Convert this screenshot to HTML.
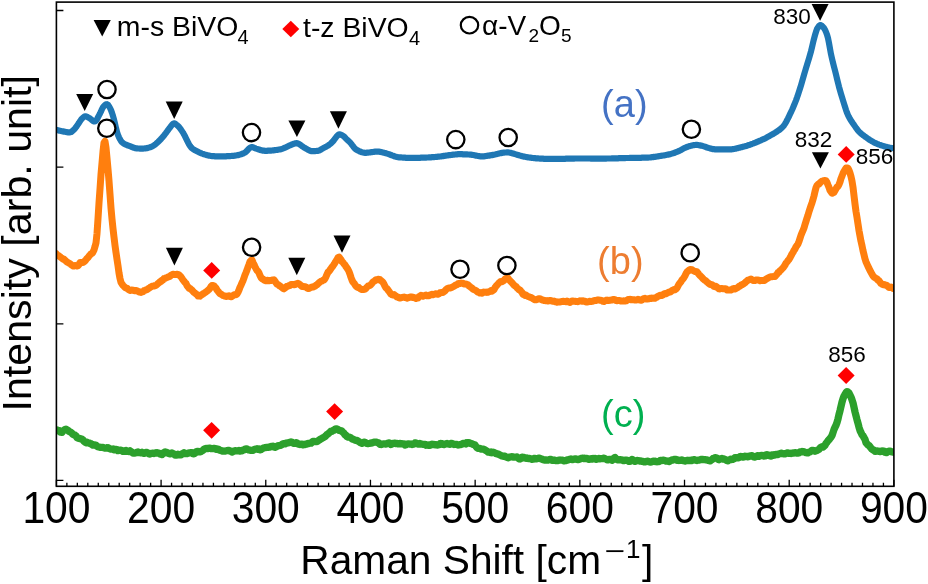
<!DOCTYPE html>
<html><head><meta charset="utf-8"><title>Raman spectra</title>
<style>
html,body{margin:0;padding:0;background:#fff;}
body{width:928px;height:584px;overflow:hidden;}
svg{display:block;}
svg text{font-family:"Liberation Sans",Arial,sans-serif;}
</style></head>
<body>
<svg width="928" height="584" viewBox="0 0 928 584">
<rect width="928" height="584" fill="#fff"/>
<defs><clipPath id="pa"><rect x="56.4" y="2.1" width="837.5" height="484.2"/></clipPath></defs>
<g clip-path="url(#pa)" fill="none" stroke-linejoin="round" stroke-linecap="round">
<path d="M54.0,129.8 L55.0,129.8 L56.0,129.8 L57.0,130.1 L58.0,130.3 L59.0,130.6 L60.0,130.8 L61.0,131.0 L62.0,131.2 L63.0,131.4 L64.0,131.6 L65.0,131.8 L66.0,132.0 L67.0,132.2 L68.0,132.3 L69.0,132.4 L70.0,132.4 L71.0,132.1 L72.0,131.4 L73.0,130.5 L74.0,129.6 L75.0,128.5 L76.0,127.2 L77.0,125.7 L78.0,124.3 L79.0,122.8 L80.0,121.2 L81.0,119.8 L82.0,118.6 L83.0,117.6 L84.0,116.8 L85.0,116.3 L86.0,116.4 L87.0,116.7 L88.0,117.3 L89.0,117.9 L90.0,118.5 L91.0,119.2 L92.0,120.1 L93.0,121.0 L94.0,121.5 L95.0,121.5 L96.0,120.6 L97.0,119.2 L98.0,117.3 L99.0,115.4 L100.0,113.5 L101.0,111.4 L102.0,109.1 L103.0,107.2 L104.0,106.0 L105.0,105.1 L106.0,104.4 L107.0,104.2 L108.0,104.9 L109.0,106.3 L110.0,108.0 L111.0,110.1 L112.0,112.9 L113.0,116.0 L114.0,119.6 L115.0,123.8 L116.0,128.1 L117.0,132.0 L118.0,135.0 L119.0,137.3 L120.0,139.3 L121.0,141.0 L122.0,142.2 L123.0,143.0 L124.0,143.7 L125.0,144.2 L126.0,144.7 L127.0,145.1 L128.0,145.5 L129.0,145.8 L130.0,146.2 L131.0,146.6 L132.0,147.0 L133.0,147.5 L134.0,147.8 L135.0,148.1 L136.0,148.3 L137.0,148.4 L138.0,148.5 L139.0,148.5 L140.0,148.6 L141.0,148.6 L142.0,148.6 L143.0,148.6 L144.0,148.5 L145.0,148.4 L146.0,148.3 L147.0,148.1 L148.0,147.9 L149.0,147.6 L150.0,147.3 L151.0,146.9 L152.0,146.4 L153.0,145.9 L154.0,145.3 L155.0,144.6 L156.0,143.8 L157.0,142.9 L158.0,142.0 L159.0,141.0 L160.0,140.0 L161.0,139.0 L162.0,137.8 L163.0,136.7 L164.0,135.5 L165.0,134.2 L166.0,132.9 L167.0,131.5 L168.0,130.1 L169.0,128.7 L170.0,127.5 L171.0,126.2 L172.0,124.9 L173.0,123.8 L174.0,123.4 L175.0,123.6 L176.0,124.3 L177.0,125.1 L178.0,126.0 L179.0,127.0 L180.0,128.2 L181.0,129.6 L182.0,131.1 L183.0,132.6 L184.0,134.4 L185.0,136.3 L186.0,138.3 L187.0,140.4 L188.0,142.4 L189.0,144.3 L190.0,145.9 L191.0,147.3 L192.0,148.3 L193.0,149.0 L194.0,149.7 L195.0,150.3 L196.0,150.8 L197.0,151.3 L198.0,151.8 L199.0,152.3 L200.0,152.7 L201.0,153.2 L202.0,153.6 L203.0,153.9 L204.0,154.3 L205.0,154.6 L206.0,154.9 L207.0,155.1 L208.0,155.4 L209.0,155.6 L210.0,155.8 L211.0,156.0 L212.0,156.1 L213.0,156.2 L214.0,156.2 L215.0,156.3 L216.0,156.3 L217.0,156.3 L218.0,156.4 L219.0,156.4 L220.0,156.4 L221.0,156.4 L222.0,156.4 L223.0,156.4 L224.0,156.3 L225.0,156.3 L226.0,156.3 L227.0,156.2 L228.0,156.2 L229.0,156.2 L230.0,156.1 L231.0,156.0 L232.0,155.9 L233.0,155.9 L234.0,155.8 L235.0,155.6 L236.0,155.5 L237.0,155.3 L238.0,155.1 L239.0,154.9 L240.0,154.6 L241.0,154.3 L242.0,153.9 L243.0,153.5 L244.0,153.1 L245.0,152.6 L246.0,151.8 L247.0,150.8 L248.0,149.7 L249.0,148.6 L250.0,147.7 L251.0,147.2 L252.0,147.0 L253.0,147.2 L254.0,147.7 L255.0,148.2 L256.0,148.6 L257.0,148.9 L258.0,149.2 L259.0,149.5 L260.0,149.9 L261.0,150.1 L262.0,150.4 L263.0,150.6 L264.0,150.7 L265.0,150.8 L266.0,150.8 L267.0,150.8 L268.0,150.7 L269.0,150.7 L270.0,150.6 L271.0,150.6 L272.0,150.5 L273.0,150.4 L274.0,150.3 L275.0,150.1 L276.0,150.0 L277.0,149.9 L278.0,149.7 L279.0,149.5 L280.0,149.4 L281.0,149.2 L282.0,148.9 L283.0,148.6 L284.0,148.1 L285.0,147.7 L286.0,147.2 L287.0,146.7 L288.0,146.2 L289.0,145.7 L290.0,145.3 L291.0,144.9 L292.0,144.5 L293.0,144.0 L294.0,143.7 L295.0,143.4 L296.0,143.2 L297.0,143.2 L298.0,143.5 L299.0,144.0 L300.0,144.6 L301.0,145.3 L302.0,146.1 L303.0,146.8 L304.0,147.5 L305.0,148.0 L306.0,148.6 L307.0,149.2 L308.0,149.8 L309.0,150.3 L310.0,150.8 L311.0,151.1 L312.0,151.2 L313.0,151.2 L314.0,151.1 L315.0,151.1 L316.0,151.0 L317.0,150.9 L318.0,150.8 L319.0,150.5 L320.0,150.1 L321.0,149.5 L322.0,148.9 L323.0,148.3 L324.0,147.8 L325.0,147.3 L326.0,146.8 L327.0,146.2 L328.0,145.6 L329.0,144.9 L330.0,144.1 L331.0,143.3 L332.0,142.3 L333.0,141.3 L334.0,140.0 L335.0,138.6 L336.0,137.3 L337.0,136.1 L338.0,135.0 L339.0,134.3 L340.0,134.4 L341.0,134.7 L342.0,135.2 L343.0,135.8 L344.0,136.5 L345.0,137.5 L346.0,138.6 L347.0,139.6 L348.0,140.5 L349.0,141.4 L350.0,142.4 L351.0,143.5 L352.0,144.9 L353.0,146.2 L354.0,147.5 L355.0,148.6 L356.0,149.5 L357.0,150.0 L358.0,150.6 L359.0,151.1 L360.0,151.5 L361.0,151.9 L362.0,152.3 L363.0,152.5 L364.0,152.7 L365.0,152.8 L366.0,152.8 L367.0,152.7 L368.0,152.6 L369.0,152.5 L370.0,152.4 L371.0,152.2 L372.0,152.1 L373.0,152.0 L374.0,151.8 L375.0,151.7 L376.0,151.6 L377.0,151.6 L378.0,151.6 L379.0,151.7 L380.0,151.8 L381.0,152.0 L382.0,152.3 L383.0,152.5 L384.0,152.8 L385.0,153.0 L386.0,153.3 L387.0,153.6 L388.0,153.9 L389.0,154.2 L390.0,154.6 L391.0,155.0 L392.0,155.4 L393.0,155.7 L394.0,156.1 L395.0,156.5 L396.0,156.7 L397.0,157.0 L398.0,157.2 L399.0,157.3 L400.0,157.4 L401.0,157.4 L402.0,157.5 L403.0,157.6 L404.0,157.7 L405.0,157.7 L406.0,157.8 L407.0,157.8 L408.0,157.9 L409.0,157.9 L410.0,157.9 L411.0,157.9 L412.0,157.9 L413.0,157.9 L414.0,157.9 L415.0,157.9 L416.0,157.9 L417.0,157.8 L418.0,157.8 L419.0,157.8 L420.0,157.8 L421.0,157.7 L422.0,157.7 L423.0,157.7 L424.0,157.7 L425.0,157.6 L426.0,157.6 L427.0,157.5 L428.0,157.5 L429.0,157.4 L430.0,157.4 L431.0,157.3 L432.0,157.2 L433.0,157.2 L434.0,157.1 L435.0,157.0 L436.0,156.9 L437.0,156.8 L438.0,156.7 L439.0,156.6 L440.0,156.5 L441.0,156.4 L442.0,156.2 L443.0,156.1 L444.0,155.9 L445.0,155.8 L446.0,155.6 L447.0,155.5 L448.0,155.3 L449.0,155.2 L450.0,155.1 L451.0,155.0 L452.0,154.8 L453.0,154.7 L454.0,154.6 L455.0,154.5 L456.0,154.4 L457.0,154.3 L458.0,154.2 L459.0,154.2 L460.0,154.2 L461.0,154.2 L462.0,154.2 L463.0,154.3 L464.0,154.3 L465.0,154.3 L466.0,154.4 L467.0,154.4 L468.0,154.5 L469.0,154.5 L470.0,154.6 L471.0,154.7 L472.0,154.8 L473.0,155.0 L474.0,155.1 L475.0,155.4 L476.0,155.6 L477.0,155.8 L478.0,156.0 L479.0,156.1 L480.0,156.3 L481.0,156.4 L482.0,156.4 L483.0,156.4 L484.0,156.3 L485.0,156.2 L486.0,156.0 L487.0,155.8 L488.0,155.7 L489.0,155.6 L490.0,155.4 L491.0,155.2 L492.0,155.1 L493.0,154.9 L494.0,154.7 L495.0,154.5 L496.0,154.3 L497.0,154.0 L498.0,153.8 L499.0,153.5 L500.0,153.3 L501.0,153.1 L502.0,152.9 L503.0,152.7 L504.0,152.6 L505.0,152.5 L506.0,152.5 L507.0,152.4 L508.0,152.4 L509.0,152.5 L510.0,152.7 L511.0,152.9 L512.0,153.2 L513.0,153.5 L514.0,153.8 L515.0,154.1 L516.0,154.4 L517.0,154.7 L518.0,155.0 L519.0,155.3 L520.0,155.6 L521.0,155.9 L522.0,156.1 L523.0,156.4 L524.0,156.6 L525.0,156.8 L526.0,157.0 L527.0,157.2 L528.0,157.3 L529.0,157.5 L530.0,157.6 L531.0,157.7 L532.0,157.9 L533.0,158.0 L534.0,158.1 L535.0,158.2 L536.0,158.3 L537.0,158.4 L538.0,158.4 L539.0,158.5 L540.0,158.6 L541.0,158.7 L542.0,158.7 L543.0,158.7 L544.0,158.8 L545.0,158.8 L546.0,158.8 L547.0,158.8 L548.0,158.8 L549.0,158.8 L550.0,158.8 L551.0,158.8 L552.0,158.8 L553.0,158.8 L554.0,158.8 L555.0,158.8 L556.0,158.8 L557.0,158.8 L558.0,158.8 L559.0,158.8 L560.0,158.8 L561.0,158.8 L562.0,158.8 L563.0,158.8 L564.0,158.8 L565.0,158.8 L566.0,158.7 L567.0,158.7 L568.0,158.7 L569.0,158.7 L570.0,158.7 L571.0,158.6 L572.0,158.6 L573.0,158.6 L574.0,158.6 L575.0,158.5 L576.0,158.5 L577.0,158.5 L578.0,158.5 L579.0,158.5 L580.0,158.5 L581.0,158.5 L582.0,158.5 L583.0,158.5 L584.0,158.5 L585.0,158.5 L586.0,158.5 L587.0,158.5 L588.0,158.5 L589.0,158.5 L590.0,158.5 L591.0,158.6 L592.0,158.6 L593.0,158.6 L594.0,158.6 L595.0,158.6 L596.0,158.6 L597.0,158.6 L598.0,158.6 L599.0,158.6 L600.0,158.6 L601.0,158.6 L602.0,158.6 L603.0,158.6 L604.0,158.6 L605.0,158.6 L606.0,158.6 L607.0,158.5 L608.0,158.5 L609.0,158.5 L610.0,158.5 L611.0,158.5 L612.0,158.4 L613.0,158.4 L614.0,158.4 L615.0,158.4 L616.0,158.3 L617.0,158.3 L618.0,158.3 L619.0,158.2 L620.0,158.2 L621.0,158.2 L622.0,158.2 L623.0,158.1 L624.0,158.1 L625.0,158.1 L626.0,158.0 L627.0,158.0 L628.0,158.0 L629.0,158.0 L630.0,157.9 L631.0,157.9 L632.0,157.9 L633.0,157.9 L634.0,157.9 L635.0,157.8 L636.0,157.8 L637.0,157.8 L638.0,157.8 L639.0,157.8 L640.0,157.8 L641.0,157.8 L642.0,157.7 L643.0,157.7 L644.0,157.7 L645.0,157.7 L646.0,157.7 L647.0,157.6 L648.0,157.6 L649.0,157.5 L650.0,157.5 L651.0,157.3 L652.0,157.2 L653.0,157.1 L654.0,156.9 L655.0,156.8 L656.0,156.7 L657.0,156.5 L658.0,156.3 L659.0,156.2 L660.0,156.0 L661.0,155.8 L662.0,155.7 L663.0,155.5 L664.0,155.4 L665.0,155.2 L666.0,155.0 L667.0,154.8 L668.0,154.6 L669.0,154.4 L670.0,154.2 L671.0,153.9 L672.0,153.6 L673.0,153.3 L674.0,153.0 L675.0,152.6 L676.0,152.2 L677.0,151.8 L678.0,151.4 L679.0,151.0 L680.0,150.5 L681.0,150.0 L682.0,149.4 L683.0,148.8 L684.0,148.3 L685.0,147.8 L686.0,147.4 L687.0,147.0 L688.0,146.6 L689.0,146.3 L690.0,146.0 L691.0,145.8 L692.0,145.5 L693.0,145.3 L694.0,145.1 L695.0,145.0 L696.0,144.9 L697.0,144.9 L698.0,145.0 L699.0,145.2 L700.0,145.4 L701.0,145.6 L702.0,145.8 L703.0,146.1 L704.0,146.4 L705.0,146.7 L706.0,147.1 L707.0,147.5 L708.0,147.8 L709.0,148.1 L710.0,148.4 L711.0,148.6 L712.0,148.9 L713.0,149.1 L714.0,149.2 L715.0,149.3 L716.0,149.3 L717.0,149.4 L718.0,149.4 L719.0,149.4 L720.0,149.4 L721.0,149.4 L722.0,149.4 L723.0,149.4 L724.0,149.4 L725.0,149.4 L726.0,149.4 L727.0,149.4 L728.0,149.4 L729.0,149.4 L730.0,149.4 L731.0,149.3 L732.0,149.3 L733.0,149.1 L734.0,149.0 L735.0,148.8 L736.0,148.6 L737.0,148.3 L738.0,148.1 L739.0,147.8 L740.0,147.6 L741.0,147.3 L742.0,147.1 L743.0,146.8 L744.0,146.5 L745.0,146.3 L746.0,146.0 L747.0,145.7 L748.0,145.3 L749.0,145.0 L750.0,144.7 L751.0,144.3 L752.0,143.9 L753.0,143.6 L754.0,143.2 L755.0,142.8 L756.0,142.4 L757.0,142.0 L758.0,141.5 L759.0,141.1 L760.0,140.7 L761.0,140.3 L762.0,139.8 L763.0,139.3 L764.0,138.9 L765.0,138.4 L766.0,137.9 L767.0,137.3 L768.0,136.8 L769.0,136.3 L770.0,135.7 L771.0,135.1 L772.0,134.6 L773.0,134.0 L774.0,133.4 L775.0,132.8 L776.0,132.1 L777.0,131.5 L778.0,130.8 L779.0,130.1 L780.0,129.4 L781.0,128.5 L782.0,127.6 L783.0,126.6 L784.0,125.4 L785.0,123.9 L786.0,122.2 L787.0,120.3 L788.0,118.4 L789.0,116.3 L790.0,114.2 L791.0,112.1 L792.0,110.0 L793.0,107.7 L794.0,105.3 L795.0,102.8 L796.0,100.3 L797.0,97.6 L798.0,94.7 L799.0,91.6 L800.0,88.5 L801.0,85.3 L802.0,81.9 L803.0,78.4 L804.0,74.9 L805.0,71.5 L806.0,68.2 L807.0,64.9 L808.0,61.7 L809.0,58.3 L810.0,54.9 L811.0,51.3 L812.0,47.2 L813.0,42.9 L814.0,38.8 L815.0,35.2 L816.0,31.8 L817.0,28.9 L818.0,27.3 L819.0,26.0 L820.0,25.2 L821.0,25.2 L822.0,25.9 L823.0,26.9 L824.0,28.1 L825.0,29.8 L826.0,32.0 L827.0,34.6 L828.0,38.1 L829.0,43.1 L830.0,48.8 L831.0,54.2 L832.0,58.7 L833.0,62.8 L834.0,66.7 L835.0,70.5 L836.0,74.5 L837.0,78.7 L838.0,82.8 L839.0,86.8 L840.0,90.4 L841.0,93.9 L842.0,97.2 L843.0,100.4 L844.0,103.6 L845.0,106.7 L846.0,109.9 L847.0,112.8 L848.0,115.1 L849.0,117.1 L850.0,118.9 L851.0,120.5 L852.0,122.0 L853.0,123.5 L854.0,124.9 L855.0,126.4 L856.0,127.9 L857.0,129.2 L858.0,130.5 L859.0,131.6 L860.0,132.6 L861.0,133.5 L862.0,134.3 L863.0,135.1 L864.0,135.8 L865.0,136.6 L866.0,137.3 L867.0,138.0 L868.0,138.7 L869.0,139.4 L870.0,140.1 L871.0,140.7 L872.0,141.3 L873.0,141.8 L874.0,142.4 L875.0,142.9 L876.0,143.3 L877.0,143.8 L878.0,144.2 L879.0,144.6 L880.0,144.9 L881.0,145.3 L882.0,145.6 L883.0,145.9 L884.0,146.2 L885.0,146.5 L886.0,146.7 L887.0,147.0 L888.0,147.2 L889.0,147.5 L890.0,147.7 L891.0,147.9 L892.0,148.0 L893.0,148.1 L894.0,148.1 L895.0,148.1 L896.0,148.1" stroke="#1f77b4" stroke-width="6.2"/>
<path d="M54.0,252.3 L55.0,253.0 L56.0,253.4 L57.0,254.9 L58.0,255.5 L59.0,256.0 L60.0,256.8 L61.0,257.6 L62.0,258.2 L63.0,259.1 L64.0,259.3 L65.0,260.3 L66.0,261.1 L67.0,262.1 L68.0,262.5 L69.0,263.2 L70.0,263.5 L71.0,264.6 L72.0,265.2 L73.0,265.9 L74.0,266.0 L75.0,265.6 L76.0,265.7 L77.0,266.1 L78.0,265.7 L79.0,264.5 L80.0,262.6 L81.0,262.6 L82.0,262.6 L83.0,262.6 L84.0,261.8 L85.0,260.9 L86.0,259.7 L87.0,258.4 L88.0,257.6 L89.0,256.1 L90.0,255.0 L91.0,253.8 L92.0,253.5 L93.0,252.1 L94.0,250.0 L95.0,246.6 L96.0,242.8 L97.0,233.6 L98.0,218.8 L99.0,203.0 L100.0,188.9 L101.0,174.6 L102.0,163.1 L103.0,151.5 L104.0,142.7 L105.0,141.3 L106.0,147.5 L107.0,158.0 L108.0,169.1 L109.0,180.9 L110.0,194.3 L111.0,208.1 L112.0,219.0 L113.0,228.7 L114.0,237.1 L115.0,245.3 L116.0,252.4 L117.0,259.3 L118.0,265.7 L119.0,273.0 L120.0,278.5 L121.0,282.4 L122.0,284.0 L123.0,285.4 L124.0,286.4 L125.0,287.5 L126.0,288.1 L127.0,288.2 L128.0,289.1 L129.0,289.8 L130.0,290.5 L131.0,290.1 L132.0,289.9 L133.0,290.3 L134.0,290.5 L135.0,290.7 L136.0,290.6 L137.0,290.7 L138.0,291.3 L139.0,292.0 L140.0,292.1 L141.0,292.4 L142.0,291.7 L143.0,291.7 L144.0,290.7 L145.0,290.4 L146.0,289.9 L147.0,289.6 L148.0,288.9 L149.0,288.2 L150.0,287.6 L151.0,286.8 L152.0,286.3 L153.0,285.9 L154.0,286.0 L155.0,285.5 L156.0,285.4 L157.0,284.5 L158.0,283.5 L159.0,282.7 L160.0,281.7 L161.0,281.5 L162.0,280.2 L163.0,280.0 L164.0,278.6 L165.0,278.6 L166.0,277.8 L167.0,277.5 L168.0,277.1 L169.0,276.6 L170.0,276.3 L171.0,275.3 L172.0,274.7 L173.0,274.3 L174.0,274.5 L175.0,274.6 L176.0,274.4 L177.0,274.3 L178.0,274.4 L179.0,274.9 L180.0,275.8 L181.0,276.9 L182.0,278.4 L183.0,280.0 L184.0,281.1 L185.0,282.5 L186.0,283.4 L187.0,285.7 L188.0,286.8 L189.0,288.2 L190.0,288.4 L191.0,289.3 L192.0,290.2 L193.0,291.3 L194.0,292.5 L195.0,292.9 L196.0,294.1 L197.0,294.5 L198.0,296.0 L199.0,295.7 L200.0,296.1 L201.0,295.0 L202.0,294.8 L203.0,293.8 L204.0,293.4 L205.0,292.5 L206.0,291.9 L207.0,291.2 L208.0,290.3 L209.0,289.5 L210.0,288.3 L211.0,286.6 L212.0,285.4 L213.0,285.5 L214.0,285.8 L215.0,287.0 L216.0,288.1 L217.0,290.0 L218.0,291.2 L219.0,292.5 L220.0,293.7 L221.0,294.1 L222.0,294.8 L223.0,295.4 L224.0,295.8 L225.0,296.2 L226.0,296.5 L227.0,296.3 L228.0,296.1 L229.0,295.7 L230.0,296.6 L231.0,296.7 L232.0,296.5 L233.0,295.6 L234.0,294.9 L235.0,294.6 L236.0,294.7 L237.0,293.9 L238.0,292.2 L239.0,290.0 L240.0,287.2 L241.0,285.2 L242.0,282.8 L243.0,280.7 L244.0,277.8 L245.0,274.9 L246.0,272.6 L247.0,270.0 L248.0,267.0 L249.0,264.5 L250.0,261.6 L251.0,260.5 L252.0,260.0 L253.0,262.6 L254.0,264.4 L255.0,266.8 L256.0,268.7 L257.0,270.4 L258.0,271.3 L259.0,272.9 L260.0,275.5 L261.0,277.6 L262.0,278.7 L263.0,279.1 L264.0,279.9 L265.0,280.5 L266.0,280.8 L267.0,280.3 L268.0,280.5 L269.0,280.7 L270.0,280.5 L271.0,280.5 L272.0,279.9 L273.0,280.2 L274.0,279.9 L275.0,281.3 L276.0,282.8 L277.0,284.2 L278.0,284.5 L279.0,285.5 L280.0,286.0 L281.0,286.7 L282.0,287.5 L283.0,288.4 L284.0,288.9 L285.0,287.9 L286.0,287.3 L287.0,286.2 L288.0,286.2 L289.0,285.5 L290.0,285.4 L291.0,284.6 L292.0,284.6 L293.0,284.6 L294.0,284.7 L295.0,284.5 L296.0,284.0 L297.0,283.7 L298.0,283.3 L299.0,283.8 L300.0,284.7 L301.0,285.6 L302.0,286.4 L303.0,286.4 L304.0,286.7 L305.0,286.7 L306.0,287.0 L307.0,287.9 L308.0,288.5 L309.0,288.6 L310.0,287.8 L311.0,287.4 L312.0,287.0 L313.0,287.1 L314.0,286.4 L315.0,286.2 L316.0,285.2 L317.0,284.8 L318.0,283.8 L319.0,282.8 L320.0,281.9 L321.0,281.3 L322.0,280.9 L323.0,280.3 L324.0,279.9 L325.0,278.7 L326.0,276.7 L327.0,274.4 L328.0,272.2 L329.0,271.3 L330.0,270.0 L331.0,268.5 L332.0,267.1 L333.0,265.9 L334.0,264.4 L335.0,262.7 L336.0,261.1 L337.0,259.4 L338.0,257.6 L339.0,257.1 L340.0,258.3 L341.0,259.6 L342.0,261.6 L343.0,262.4 L344.0,264.0 L345.0,264.9 L346.0,266.7 L347.0,268.0 L348.0,269.5 L349.0,271.5 L350.0,274.2 L351.0,277.4 L352.0,280.1 L353.0,282.1 L354.0,283.1 L355.0,284.7 L356.0,286.1 L357.0,287.1 L358.0,287.5 L359.0,287.6 L360.0,288.6 L361.0,289.1 L362.0,289.6 L363.0,289.4 L364.0,289.5 L365.0,289.2 L366.0,288.3 L367.0,287.1 L368.0,286.1 L369.0,285.7 L370.0,285.6 L371.0,284.4 L372.0,283.3 L373.0,281.9 L374.0,281.3 L375.0,280.6 L376.0,279.7 L377.0,279.8 L378.0,279.2 L379.0,279.4 L380.0,279.7 L381.0,280.7 L382.0,281.4 L383.0,282.3 L384.0,284.2 L385.0,286.3 L386.0,288.0 L387.0,288.7 L388.0,290.0 L389.0,291.3 L390.0,292.7 L391.0,294.1 L392.0,294.7 L393.0,295.1 L394.0,294.6 L395.0,295.4 L396.0,296.0 L397.0,297.1 L398.0,297.1 L399.0,297.8 L400.0,298.0 L401.0,297.8 L402.0,297.4 L403.0,297.3 L404.0,297.1 L405.0,297.5 L406.0,297.5 L407.0,298.2 L408.0,297.8 L409.0,297.6 L410.0,297.0 L411.0,297.2 L412.0,297.0 L413.0,297.5 L414.0,297.6 L415.0,298.0 L416.0,298.4 L417.0,298.0 L418.0,298.0 L419.0,296.7 L420.0,296.0 L421.0,295.3 L422.0,295.6 L423.0,296.2 L424.0,295.6 L425.0,295.4 L426.0,295.1 L427.0,295.8 L428.0,295.7 L429.0,295.7 L430.0,294.9 L431.0,294.7 L432.0,294.3 L433.0,294.7 L434.0,294.3 L435.0,294.0 L436.0,293.7 L437.0,294.2 L438.0,294.2 L439.0,293.8 L440.0,292.8 L441.0,292.6 L442.0,292.3 L443.0,292.4 L444.0,291.7 L445.0,290.8 L446.0,289.7 L447.0,288.8 L448.0,288.2 L449.0,288.1 L450.0,288.1 L451.0,287.6 L452.0,287.3 L453.0,286.7 L454.0,286.3 L455.0,285.5 L456.0,285.0 L457.0,284.7 L458.0,283.7 L459.0,283.5 L460.0,283.5 L461.0,283.1 L462.0,283.2 L463.0,283.3 L464.0,284.1 L465.0,284.1 L466.0,284.1 L467.0,284.4 L468.0,284.8 L469.0,286.0 L470.0,286.6 L471.0,287.5 L472.0,288.1 L473.0,289.2 L474.0,289.7 L475.0,290.0 L476.0,290.7 L477.0,291.4 L478.0,292.2 L479.0,292.2 L480.0,293.1 L481.0,292.9 L482.0,293.2 L483.0,292.2 L484.0,292.1 L485.0,292.3 L486.0,292.1 L487.0,292.4 L488.0,292.2 L489.0,291.8 L490.0,291.4 L491.0,290.5 L492.0,291.2 L493.0,290.3 L494.0,289.7 L495.0,287.6 L496.0,286.2 L497.0,285.1 L498.0,284.0 L499.0,282.9 L500.0,282.0 L501.0,281.5 L502.0,281.8 L503.0,281.0 L504.0,280.4 L505.0,279.0 L506.0,278.4 L507.0,277.9 L508.0,278.2 L509.0,279.6 L510.0,280.7 L511.0,281.7 L512.0,282.7 L513.0,284.0 L514.0,285.1 L515.0,286.0 L516.0,286.6 L517.0,287.8 L518.0,288.7 L519.0,289.7 L520.0,290.1 L521.0,291.3 L522.0,292.4 L523.0,294.4 L524.0,294.5 L525.0,295.4 L526.0,295.0 L527.0,295.9 L528.0,296.4 L529.0,296.8 L530.0,297.2 L531.0,297.4 L532.0,298.1 L533.0,298.7 L534.0,299.3 L535.0,299.8 L536.0,299.8 L537.0,299.5 L538.0,298.9 L539.0,298.7 L540.0,298.7 L541.0,299.4 L542.0,299.9 L543.0,300.0 L544.0,300.4 L545.0,300.5 L546.0,300.8 L547.0,300.6 L548.0,301.1 L549.0,300.7 L550.0,300.5 L551.0,300.5 L552.0,301.1 L553.0,301.3 L554.0,301.1 L555.0,301.7 L556.0,301.8 L557.0,302.2 L558.0,302.1 L559.0,302.1 L560.0,302.0 L561.0,301.7 L562.0,301.6 L563.0,301.2 L564.0,301.5 L565.0,301.6 L566.0,301.7 L567.0,301.1 L568.0,301.7 L569.0,302.1 L570.0,302.4 L571.0,301.6 L572.0,300.9 L573.0,301.0 L574.0,301.3 L575.0,301.3 L576.0,301.5 L577.0,301.6 L578.0,301.7 L579.0,301.2 L580.0,300.8 L581.0,301.1 L582.0,301.2 L583.0,300.8 L584.0,301.2 L585.0,301.3 L586.0,302.1 L587.0,302.0 L588.0,301.8 L589.0,301.5 L590.0,301.3 L591.0,301.6 L592.0,301.4 L593.0,301.0 L594.0,300.7 L595.0,300.5 L596.0,300.5 L597.0,299.9 L598.0,300.1 L599.0,299.9 L600.0,300.3 L601.0,300.3 L602.0,300.6 L603.0,301.3 L604.0,301.4 L605.0,300.8 L606.0,300.3 L607.0,300.1 L608.0,300.6 L609.0,300.3 L610.0,300.3 L611.0,300.0 L612.0,300.0 L613.0,299.6 L614.0,299.6 L615.0,299.7 L616.0,300.6 L617.0,300.7 L618.0,300.6 L619.0,300.4 L620.0,300.6 L621.0,301.1 L622.0,301.1 L623.0,300.9 L624.0,300.8 L625.0,301.1 L626.0,300.9 L627.0,300.5 L628.0,299.6 L629.0,299.6 L630.0,299.3 L631.0,299.7 L632.0,299.6 L633.0,299.8 L634.0,299.8 L635.0,300.0 L636.0,300.1 L637.0,299.9 L638.0,299.3 L639.0,299.6 L640.0,300.1 L641.0,300.2 L642.0,300.0 L643.0,299.0 L644.0,298.6 L645.0,298.3 L646.0,299.0 L647.0,299.1 L648.0,298.8 L649.0,298.7 L650.0,298.3 L651.0,298.5 L652.0,298.0 L653.0,298.3 L654.0,298.0 L655.0,298.2 L656.0,297.6 L657.0,297.2 L658.0,296.1 L659.0,295.9 L660.0,295.3 L661.0,295.5 L662.0,295.4 L663.0,294.9 L664.0,293.8 L665.0,293.5 L666.0,293.8 L667.0,293.2 L668.0,292.7 L669.0,292.1 L670.0,292.1 L671.0,291.6 L672.0,290.4 L673.0,290.2 L674.0,289.4 L675.0,289.7 L676.0,289.1 L677.0,288.0 L678.0,286.0 L679.0,284.1 L680.0,282.8 L681.0,281.7 L682.0,279.8 L683.0,278.9 L684.0,277.5 L685.0,275.8 L686.0,273.6 L687.0,271.9 L688.0,271.2 L689.0,270.2 L690.0,269.5 L691.0,269.6 L692.0,269.8 L693.0,270.6 L694.0,271.0 L695.0,271.4 L696.0,271.4 L697.0,271.8 L698.0,273.1 L699.0,274.5 L700.0,275.6 L701.0,276.4 L702.0,277.6 L703.0,278.8 L704.0,279.6 L705.0,280.3 L706.0,281.1 L707.0,281.9 L708.0,282.9 L709.0,283.6 L710.0,284.3 L711.0,284.6 L712.0,284.7 L713.0,285.6 L714.0,286.4 L715.0,286.7 L716.0,286.3 L717.0,287.0 L718.0,288.1 L719.0,288.8 L720.0,288.9 L721.0,288.4 L722.0,288.6 L723.0,288.7 L724.0,288.8 L725.0,288.8 L726.0,289.0 L727.0,290.0 L728.0,290.1 L729.0,289.9 L730.0,290.0 L731.0,290.0 L732.0,289.4 L733.0,288.7 L734.0,288.6 L735.0,289.0 L736.0,288.6 L737.0,287.8 L738.0,287.3 L739.0,286.4 L740.0,286.1 L741.0,285.0 L742.0,284.8 L743.0,284.1 L744.0,283.6 L745.0,282.8 L746.0,281.7 L747.0,280.9 L748.0,280.1 L749.0,279.8 L750.0,279.4 L751.0,279.1 L752.0,279.7 L753.0,280.4 L754.0,280.4 L755.0,280.4 L756.0,280.0 L757.0,279.9 L758.0,280.1 L759.0,280.2 L760.0,280.8 L761.0,280.4 L762.0,280.5 L763.0,280.6 L764.0,280.5 L765.0,280.0 L766.0,279.2 L767.0,278.7 L768.0,277.9 L769.0,277.5 L770.0,276.9 L771.0,276.8 L772.0,276.7 L773.0,276.6 L774.0,276.4 L775.0,276.5 L776.0,275.3 L777.0,274.3 L778.0,272.6 L779.0,272.2 L780.0,270.8 L781.0,270.0 L782.0,268.9 L783.0,267.9 L784.0,266.5 L785.0,265.0 L786.0,263.1 L787.0,262.0 L788.0,260.6 L789.0,259.4 L790.0,257.7 L791.0,255.9 L792.0,253.9 L793.0,252.4 L794.0,250.3 L795.0,249.0 L796.0,246.8 L797.0,245.6 L798.0,243.9 L799.0,241.5 L800.0,238.4 L801.0,235.3 L802.0,232.7 L803.0,230.6 L804.0,228.0 L805.0,224.6 L806.0,221.4 L807.0,218.1 L808.0,215.1 L809.0,211.6 L810.0,208.7 L811.0,205.7 L812.0,202.8 L813.0,199.4 L814.0,195.9 L815.0,191.5 L816.0,187.7 L817.0,185.4 L818.0,184.4 L819.0,184.1 L820.0,182.8 L821.0,182.0 L822.0,181.1 L823.0,180.9 L824.0,180.6 L825.0,180.4 L826.0,180.8 L827.0,182.4 L828.0,185.0 L829.0,187.4 L830.0,190.3 L831.0,191.8 L832.0,193.2 L833.0,193.0 L834.0,192.3 L835.0,190.5 L836.0,188.7 L837.0,187.0 L838.0,186.4 L839.0,184.6 L840.0,182.0 L841.0,178.5 L842.0,176.1 L843.0,173.4 L844.0,171.4 L845.0,169.6 L846.0,168.1 L847.0,168.0 L848.0,168.2 L849.0,170.3 L850.0,173.0 L851.0,176.5 L852.0,181.0 L853.0,187.2 L854.0,195.7 L855.0,204.0 L856.0,211.5 L857.0,217.5 L858.0,224.1 L859.0,230.6 L860.0,236.0 L861.0,241.3 L862.0,245.6 L863.0,250.7 L864.0,254.7 L865.0,258.8 L866.0,261.9 L867.0,264.2 L868.0,266.4 L869.0,268.4 L870.0,270.5 L871.0,272.3 L872.0,274.2 L873.0,275.8 L874.0,277.1 L875.0,277.6 L876.0,278.5 L877.0,278.8 L878.0,280.2 L879.0,280.7 L880.0,282.2 L881.0,283.5 L882.0,284.2 L883.0,284.7 L884.0,284.5 L885.0,285.0 L886.0,284.9 L887.0,285.5 L888.0,286.6 L889.0,287.4 L890.0,287.4 L891.0,287.1 L892.0,287.5 L893.0,288.4 L894.0,288.8 L895.0,289.0 L896.0,288.9" stroke="#ff7f0e" stroke-width="7.0"/>
<path d="M54.0,429.5 L55.0,430.2 L56.0,430.0 L57.0,430.0 L58.0,430.3 L59.0,430.3 L60.0,432.1 L61.0,432.2 L62.0,432.4 L63.0,431.0 L64.0,430.2 L65.0,429.5 L66.0,429.2 L67.0,429.8 L68.0,430.4 L69.0,431.4 L70.0,431.8 L71.0,432.4 L72.0,433.3 L73.0,434.3 L74.0,434.9 L75.0,435.1 L76.0,436.0 L77.0,437.6 L78.0,438.2 L79.0,438.4 L80.0,438.6 L81.0,438.8 L82.0,439.2 L83.0,439.9 L84.0,441.2 L85.0,442.1 L86.0,442.7 L87.0,442.2 L88.0,442.9 L89.0,442.8 L90.0,443.5 L91.0,443.6 L92.0,444.5 L93.0,445.2 L94.0,445.0 L95.0,445.0 L96.0,445.3 L97.0,446.2 L98.0,446.7 L99.0,447.0 L100.0,447.3 L101.0,447.4 L102.0,447.4 L103.0,447.4 L104.0,447.8 L105.0,448.2 L106.0,448.0 L107.0,448.1 L108.0,447.6 L109.0,448.4 L110.0,448.7 L111.0,449.2 L112.0,449.2 L113.0,449.0 L114.0,449.9 L115.0,449.4 L116.0,449.5 L117.0,449.6 L118.0,450.7 L119.0,450.5 L120.0,450.2 L121.0,450.1 L122.0,450.7 L123.0,451.4 L124.0,450.9 L125.0,451.3 L126.0,450.5 L127.0,451.4 L128.0,451.3 L129.0,451.6 L130.0,450.8 L131.0,451.6 L132.0,452.2 L133.0,453.1 L134.0,453.1 L135.0,453.1 L136.0,452.8 L137.0,452.3 L138.0,452.0 L139.0,452.7 L140.0,452.6 L141.0,452.8 L142.0,452.3 L143.0,452.9 L144.0,453.4 L145.0,453.1 L146.0,452.5 L147.0,452.4 L148.0,453.1 L149.0,453.9 L150.0,454.0 L151.0,453.5 L152.0,453.4 L153.0,453.2 L154.0,453.5 L155.0,453.0 L156.0,453.1 L157.0,452.7 L158.0,453.1 L159.0,453.1 L160.0,453.9 L161.0,454.2 L162.0,454.6 L163.0,453.2 L164.0,452.6 L165.0,452.0 L166.0,452.9 L167.0,452.4 L168.0,453.1 L169.0,453.5 L170.0,453.9 L171.0,453.3 L172.0,452.9 L173.0,453.4 L174.0,454.1 L175.0,455.0 L176.0,455.0 L177.0,455.0 L178.0,454.3 L179.0,454.8 L180.0,454.7 L181.0,454.9 L182.0,453.9 L183.0,453.5 L184.0,452.8 L185.0,453.5 L186.0,453.7 L187.0,453.7 L188.0,453.1 L189.0,453.0 L190.0,452.8 L191.0,452.6 L192.0,452.6 L193.0,453.6 L194.0,453.8 L195.0,453.3 L196.0,452.0 L197.0,451.4 L198.0,451.5 L199.0,451.8 L200.0,451.9 L201.0,451.5 L202.0,450.8 L203.0,450.4 L204.0,449.3 L205.0,448.8 L206.0,448.5 L207.0,448.6 L208.0,448.5 L209.0,448.2 L210.0,448.2 L211.0,448.6 L212.0,448.6 L213.0,448.6 L214.0,448.4 L215.0,448.6 L216.0,449.3 L217.0,448.9 L218.0,449.7 L219.0,449.5 L220.0,450.3 L221.0,450.3 L222.0,450.9 L223.0,451.2 L224.0,451.0 L225.0,451.2 L226.0,450.8 L227.0,450.7 L228.0,450.4 L229.0,450.3 L230.0,451.1 L231.0,451.2 L232.0,452.1 L233.0,451.5 L234.0,451.2 L235.0,450.6 L236.0,450.9 L237.0,450.8 L238.0,450.8 L239.0,450.5 L240.0,451.1 L241.0,450.7 L242.0,450.9 L243.0,450.1 L244.0,449.9 L245.0,449.2 L246.0,448.8 L247.0,449.1 L248.0,449.6 L249.0,450.0 L250.0,450.2 L251.0,450.4 L252.0,450.4 L253.0,450.3 L254.0,449.7 L255.0,449.1 L256.0,449.2 L257.0,448.7 L258.0,449.3 L259.0,449.0 L260.0,449.9 L261.0,449.5 L262.0,448.9 L263.0,448.3 L264.0,447.8 L265.0,447.7 L266.0,447.4 L267.0,447.4 L268.0,447.4 L269.0,447.1 L270.0,447.0 L271.0,446.4 L272.0,446.5 L273.0,446.1 L274.0,447.0 L275.0,447.3 L276.0,446.9 L277.0,446.3 L278.0,445.7 L279.0,445.7 L280.0,445.5 L281.0,445.1 L282.0,444.5 L283.0,443.8 L284.0,443.6 L285.0,443.9 L286.0,443.2 L287.0,443.0 L288.0,442.9 L289.0,442.7 L290.0,442.2 L291.0,441.9 L292.0,442.2 L293.0,443.1 L294.0,443.3 L295.0,443.4 L296.0,442.7 L297.0,442.8 L298.0,444.0 L299.0,444.3 L300.0,444.6 L301.0,444.1 L302.0,444.2 L303.0,444.8 L304.0,444.4 L305.0,444.6 L306.0,443.8 L307.0,444.0 L308.0,443.3 L309.0,443.6 L310.0,443.1 L311.0,443.2 L312.0,442.1 L313.0,441.5 L314.0,441.4 L315.0,441.6 L316.0,441.7 L317.0,441.4 L318.0,440.9 L319.0,440.1 L320.0,439.5 L321.0,438.9 L322.0,438.3 L323.0,437.7 L324.0,437.2 L325.0,436.6 L326.0,435.6 L327.0,434.5 L328.0,434.0 L329.0,433.0 L330.0,432.1 L331.0,431.1 L332.0,431.4 L333.0,430.5 L334.0,430.2 L335.0,429.3 L336.0,428.8 L337.0,429.1 L338.0,429.4 L339.0,430.3 L340.0,430.7 L341.0,430.6 L342.0,431.3 L343.0,432.4 L344.0,433.3 L345.0,434.9 L346.0,435.2 L347.0,436.7 L348.0,437.1 L349.0,437.2 L350.0,437.4 L351.0,438.0 L352.0,438.9 L353.0,439.2 L354.0,439.6 L355.0,440.2 L356.0,440.4 L357.0,440.3 L358.0,441.1 L359.0,441.7 L360.0,442.5 L361.0,442.9 L362.0,443.3 L363.0,442.9 L364.0,442.1 L365.0,442.3 L366.0,443.0 L367.0,443.5 L368.0,443.7 L369.0,443.3 L370.0,443.3 L371.0,443.0 L372.0,443.0 L373.0,442.5 L374.0,442.2 L375.0,442.1 L376.0,442.2 L377.0,442.4 L378.0,442.8 L379.0,443.1 L380.0,444.3 L381.0,444.5 L382.0,444.4 L383.0,443.8 L384.0,443.8 L385.0,443.9 L386.0,444.1 L387.0,443.8 L388.0,443.1 L389.0,443.0 L390.0,443.1 L391.0,444.4 L392.0,443.9 L393.0,443.5 L394.0,443.4 L395.0,443.1 L396.0,443.5 L397.0,443.4 L398.0,443.8 L399.0,443.8 L400.0,443.4 L401.0,443.8 L402.0,443.7 L403.0,444.0 L404.0,444.0 L405.0,445.1 L406.0,444.8 L407.0,444.3 L408.0,443.8 L409.0,443.8 L410.0,444.2 L411.0,444.0 L412.0,444.5 L413.0,444.2 L414.0,444.1 L415.0,443.0 L416.0,442.9 L417.0,443.4 L418.0,444.1 L419.0,444.2 L420.0,443.4 L421.0,443.9 L422.0,444.2 L423.0,444.3 L424.0,444.4 L425.0,444.5 L426.0,445.2 L427.0,444.8 L428.0,445.3 L429.0,445.2 L430.0,445.3 L431.0,444.5 L432.0,444.2 L433.0,444.5 L434.0,444.5 L435.0,444.8 L436.0,444.6 L437.0,445.1 L438.0,444.9 L439.0,444.7 L440.0,443.6 L441.0,443.5 L442.0,443.7 L443.0,444.4 L444.0,444.5 L445.0,444.1 L446.0,443.9 L447.0,443.4 L448.0,444.0 L449.0,444.2 L450.0,444.3 L451.0,443.5 L452.0,443.4 L453.0,444.0 L454.0,444.5 L455.0,444.3 L456.0,444.3 L457.0,444.6 L458.0,445.1 L459.0,444.8 L460.0,444.7 L461.0,444.4 L462.0,444.2 L463.0,443.4 L464.0,443.5 L465.0,443.2 L466.0,443.9 L467.0,442.7 L468.0,442.8 L469.0,442.6 L470.0,443.3 L471.0,443.4 L472.0,443.7 L473.0,444.4 L474.0,444.6 L475.0,445.0 L476.0,446.5 L477.0,447.7 L478.0,448.3 L479.0,448.4 L480.0,448.4 L481.0,449.0 L482.0,449.1 L483.0,449.1 L484.0,449.3 L485.0,449.9 L486.0,450.7 L487.0,451.1 L488.0,452.0 L489.0,452.1 L490.0,452.6 L491.0,452.0 L492.0,452.7 L493.0,452.2 L494.0,452.6 L495.0,452.9 L496.0,453.5 L497.0,453.9 L498.0,453.9 L499.0,454.5 L500.0,455.0 L501.0,455.5 L502.0,456.0 L503.0,456.2 L504.0,456.4 L505.0,456.2 L506.0,456.9 L507.0,457.3 L508.0,457.8 L509.0,457.4 L510.0,457.0 L511.0,456.8 L512.0,456.7 L513.0,457.0 L514.0,457.1 L515.0,457.2 L516.0,457.1 L517.0,457.0 L518.0,457.9 L519.0,458.8 L520.0,459.0 L521.0,458.5 L522.0,457.1 L523.0,457.3 L524.0,457.4 L525.0,458.0 L526.0,458.3 L527.0,458.0 L528.0,458.5 L529.0,458.4 L530.0,458.6 L531.0,458.9 L532.0,459.3 L533.0,459.2 L534.0,458.5 L535.0,458.4 L536.0,458.8 L537.0,458.8 L538.0,458.3 L539.0,458.1 L540.0,458.4 L541.0,458.8 L542.0,459.0 L543.0,459.7 L544.0,459.9 L545.0,460.1 L546.0,460.0 L547.0,460.1 L548.0,460.2 L549.0,459.6 L550.0,459.5 L551.0,459.4 L552.0,460.3 L553.0,460.2 L554.0,460.4 L555.0,460.1 L556.0,460.7 L557.0,460.6 L558.0,460.5 L559.0,460.2 L560.0,460.0 L561.0,460.2 L562.0,460.1 L563.0,460.3 L564.0,460.9 L565.0,460.7 L566.0,460.6 L567.0,459.8 L568.0,460.1 L569.0,459.6 L570.0,459.3 L571.0,459.0 L572.0,459.5 L573.0,459.6 L574.0,459.3 L575.0,458.8 L576.0,458.9 L577.0,459.4 L578.0,459.6 L579.0,459.4 L580.0,459.0 L581.0,458.5 L582.0,458.4 L583.0,458.1 L584.0,458.5 L585.0,458.6 L586.0,458.3 L587.0,458.6 L588.0,459.1 L589.0,459.4 L590.0,459.2 L591.0,458.7 L592.0,459.1 L593.0,458.5 L594.0,458.9 L595.0,458.5 L596.0,459.4 L597.0,458.9 L598.0,458.9 L599.0,458.5 L600.0,458.8 L601.0,458.7 L602.0,458.7 L603.0,458.4 L604.0,458.1 L605.0,458.7 L606.0,459.1 L607.0,459.8 L608.0,459.8 L609.0,459.4 L610.0,459.4 L611.0,459.6 L612.0,460.3 L613.0,459.7 L614.0,458.1 L615.0,457.5 L616.0,458.6 L617.0,459.6 L618.0,459.9 L619.0,459.8 L620.0,459.7 L621.0,459.9 L622.0,460.0 L623.0,460.5 L624.0,460.6 L625.0,460.2 L626.0,460.3 L627.0,460.1 L628.0,460.7 L629.0,461.4 L630.0,461.4 L631.0,460.3 L632.0,459.4 L633.0,459.8 L634.0,460.9 L635.0,461.4 L636.0,461.0 L637.0,460.5 L638.0,460.6 L639.0,460.6 L640.0,461.2 L641.0,460.8 L642.0,461.4 L643.0,461.4 L644.0,461.8 L645.0,461.9 L646.0,461.4 L647.0,461.4 L648.0,461.2 L649.0,461.7 L650.0,462.0 L651.0,462.0 L652.0,461.7 L653.0,461.1 L654.0,461.1 L655.0,461.6 L656.0,461.5 L657.0,461.8 L658.0,461.5 L659.0,461.5 L660.0,460.6 L661.0,460.4 L662.0,460.5 L663.0,460.2 L664.0,460.4 L665.0,460.6 L666.0,461.2 L667.0,461.0 L668.0,461.2 L669.0,461.5 L670.0,461.1 L671.0,460.3 L672.0,459.9 L673.0,460.1 L674.0,459.4 L675.0,459.6 L676.0,459.5 L677.0,460.3 L678.0,460.0 L679.0,460.5 L680.0,460.3 L681.0,460.1 L682.0,460.0 L683.0,460.6 L684.0,460.7 L685.0,461.0 L686.0,460.6 L687.0,460.5 L688.0,460.6 L689.0,460.3 L690.0,460.7 L691.0,460.1 L692.0,460.5 L693.0,459.8 L694.0,459.7 L695.0,459.9 L696.0,460.3 L697.0,460.6 L698.0,460.1 L699.0,460.2 L700.0,459.8 L701.0,459.5 L702.0,459.4 L703.0,459.5 L704.0,459.7 L705.0,459.6 L706.0,459.8 L707.0,459.9 L708.0,460.3 L709.0,460.5 L710.0,460.9 L711.0,460.2 L712.0,459.6 L713.0,458.6 L714.0,458.3 L715.0,457.7 L716.0,457.9 L717.0,458.1 L718.0,459.2 L719.0,459.7 L720.0,459.1 L721.0,458.8 L722.0,458.4 L723.0,459.0 L724.0,458.9 L725.0,459.6 L726.0,460.1 L727.0,460.5 L728.0,460.9 L729.0,460.0 L730.0,459.6 L731.0,459.1 L732.0,459.5 L733.0,459.3 L734.0,458.8 L735.0,457.6 L736.0,457.6 L737.0,457.7 L738.0,457.9 L739.0,457.6 L740.0,456.6 L741.0,456.5 L742.0,456.7 L743.0,457.2 L744.0,457.0 L745.0,456.2 L746.0,456.5 L747.0,456.4 L748.0,456.8 L749.0,456.5 L750.0,455.8 L751.0,455.9 L752.0,455.6 L753.0,456.4 L754.0,456.9 L755.0,457.1 L756.0,456.4 L757.0,455.9 L758.0,455.7 L759.0,456.3 L760.0,455.9 L761.0,455.3 L762.0,455.3 L763.0,455.7 L764.0,456.1 L765.0,455.3 L766.0,455.7 L767.0,454.7 L768.0,455.1 L769.0,455.1 L770.0,455.9 L771.0,456.0 L772.0,454.9 L773.0,455.3 L774.0,454.7 L775.0,455.0 L776.0,454.5 L777.0,454.4 L778.0,454.5 L779.0,453.8 L780.0,453.7 L781.0,453.2 L782.0,453.4 L783.0,453.7 L784.0,453.9 L785.0,453.9 L786.0,453.5 L787.0,453.0 L788.0,452.9 L789.0,453.3 L790.0,453.3 L791.0,453.5 L792.0,453.2 L793.0,452.9 L794.0,453.0 L795.0,452.7 L796.0,452.9 L797.0,453.1 L798.0,453.0 L799.0,452.9 L800.0,451.9 L801.0,452.0 L802.0,451.5 L803.0,451.8 L804.0,451.7 L805.0,452.2 L806.0,452.7 L807.0,452.8 L808.0,452.8 L809.0,452.2 L810.0,451.8 L811.0,451.2 L812.0,450.4 L813.0,450.3 L814.0,450.8 L815.0,451.3 L816.0,450.8 L817.0,450.5 L818.0,449.8 L819.0,449.4 L820.0,448.0 L821.0,447.2 L822.0,446.7 L823.0,447.0 L824.0,446.4 L825.0,445.3 L826.0,443.4 L827.0,442.3 L828.0,440.8 L829.0,439.7 L830.0,438.4 L831.0,437.3 L832.0,435.5 L833.0,432.6 L834.0,429.5 L835.0,427.2 L836.0,425.3 L837.0,422.5 L838.0,418.9 L839.0,414.5 L840.0,410.7 L841.0,406.4 L842.0,402.1 L843.0,398.8 L844.0,396.1 L845.0,394.5 L846.0,392.6 L847.0,391.6 L848.0,392.1 L849.0,393.0 L850.0,395.1 L851.0,397.1 L852.0,399.8 L853.0,402.8 L854.0,407.3 L855.0,411.9 L856.0,415.7 L857.0,419.7 L858.0,423.3 L859.0,427.2 L860.0,430.5 L861.0,432.5 L862.0,434.7 L863.0,435.8 L864.0,437.7 L865.0,439.4 L866.0,442.6 L867.0,443.8 L868.0,445.1 L869.0,445.4 L870.0,446.8 L871.0,448.1 L872.0,449.2 L873.0,450.0 L874.0,450.2 L875.0,451.3 L876.0,451.3 L877.0,451.0 L878.0,451.1 L879.0,451.3 L880.0,451.7 L881.0,451.2 L882.0,450.9 L883.0,451.3 L884.0,451.2 L885.0,452.3 L886.0,452.6 L887.0,452.5 L888.0,451.5 L889.0,451.2 L890.0,451.1 L891.0,451.6 L892.0,451.8 L893.0,452.2 L894.0,452.1 L895.0,452.2 L896.0,452.9" stroke="#2ca02c" stroke-width="7.3"/>
</g>
<path d="M56.40,486.3 V479.80 M66.87,486.3 V482.70 M77.34,486.3 V482.70 M87.81,486.3 V482.70 M98.28,486.3 V482.70 M108.74,486.3 V482.70 M119.21,486.3 V482.70 M129.68,486.3 V482.70 M140.15,486.3 V482.70 M150.62,486.3 V482.70 M161.09,486.3 V479.80 M171.56,486.3 V482.70 M182.03,486.3 V482.70 M192.49,486.3 V482.70 M202.96,486.3 V482.70 M213.43,486.3 V482.70 M223.90,486.3 V482.70 M234.37,486.3 V482.70 M244.84,486.3 V482.70 M255.31,486.3 V482.70 M265.77,486.3 V479.80 M276.24,486.3 V482.70 M286.71,486.3 V482.70 M297.18,486.3 V482.70 M307.65,486.3 V482.70 M318.12,486.3 V482.70 M328.59,486.3 V482.70 M339.06,486.3 V482.70 M349.52,486.3 V482.70 M359.99,486.3 V482.70 M370.46,486.3 V479.80 M380.93,486.3 V482.70 M391.40,486.3 V482.70 M401.87,486.3 V482.70 M412.34,486.3 V482.70 M422.81,486.3 V482.70 M433.27,486.3 V482.70 M443.74,486.3 V482.70 M454.21,486.3 V482.70 M464.68,486.3 V482.70 M475.15,486.3 V479.80 M485.62,486.3 V482.70 M496.09,486.3 V482.70 M506.56,486.3 V482.70 M517.02,486.3 V482.70 M527.49,486.3 V482.70 M537.96,486.3 V482.70 M548.43,486.3 V482.70 M558.90,486.3 V482.70 M569.37,486.3 V482.70 M579.84,486.3 V479.80 M590.31,486.3 V482.70 M600.77,486.3 V482.70 M611.24,486.3 V482.70 M621.71,486.3 V482.70 M632.18,486.3 V482.70 M642.65,486.3 V482.70 M653.12,486.3 V482.70 M663.59,486.3 V482.70 M674.06,486.3 V482.70 M684.52,486.3 V479.80 M694.99,486.3 V482.70 M705.46,486.3 V482.70 M715.93,486.3 V482.70 M726.40,486.3 V482.70 M736.87,486.3 V482.70 M747.34,486.3 V482.70 M757.81,486.3 V482.70 M768.27,486.3 V482.70 M778.74,486.3 V482.70 M789.21,486.3 V479.80 M799.68,486.3 V482.70 M810.15,486.3 V482.70 M820.62,486.3 V482.70 M831.09,486.3 V482.70 M841.56,486.3 V482.70 M852.02,486.3 V482.70 M862.49,486.3 V482.70 M872.96,486.3 V482.70 M883.43,486.3 V482.70 M893.90,486.3 V479.80 M56.4,10.5 H63.4 M56.4,167.1 H63.4 M56.4,323.9 H63.4 M56.4,480.4 H63.4" stroke="#000" stroke-width="1.3" fill="none"/>
<rect x="56.4" y="2.1" width="837.5" height="484.2" fill="none" stroke="#000" stroke-width="1.6"/>
<text transform="translate(56.40,522.8) scale(0.983,1.08)" font-size="41.5" text-anchor="middle">100</text>
<text transform="translate(161.09,522.8) scale(0.983,1.08)" font-size="41.5" text-anchor="middle">200</text>
<text transform="translate(265.77,522.8) scale(0.983,1.08)" font-size="41.5" text-anchor="middle">300</text>
<text transform="translate(370.46,522.8) scale(0.983,1.08)" font-size="41.5" text-anchor="middle">400</text>
<text transform="translate(475.15,522.8) scale(0.983,1.08)" font-size="41.5" text-anchor="middle">500</text>
<text transform="translate(579.84,522.8) scale(0.983,1.08)" font-size="41.5" text-anchor="middle">600</text>
<text transform="translate(684.52,522.8) scale(0.983,1.08)" font-size="41.5" text-anchor="middle">700</text>
<text transform="translate(789.21,522.8) scale(0.983,1.08)" font-size="41.5" text-anchor="middle">800</text>
<text transform="translate(893.90,522.8) scale(0.983,1.08)" font-size="41.5" text-anchor="middle">900</text>
<text x="300.3" y="574" font-size="40.7">Raman Shift [cm</text>
<text transform="translate(604.6,559.6) scale(1.36,1)" font-size="26" font-family="Liberation Serif, serif">−</text>
<text x="626" y="558.4" font-size="26" font-family="Liberation Serif, serif">1</text>
<text x="642" y="574" font-size="40.7">]</text>
<text transform="translate(30.8,411.5) rotate(-90)" font-size="41.2">Intensity [arb. unit]</text>
<path d="M93.6,19.9 L110.8,19.9 L102.2,36.6Z" fill="#000"/>
<text x="116.8" y="35.9" font-size="28.4">m-s BiVO</text>
<text x="237.6" y="43.7" font-size="20">4</text>
<path d="M290.8,20.7 L299.3,29.0 L290.8,37.3 L282.3,29.0Z" fill="#ff0000"/>
<text x="303" y="37.2" font-size="28.4">t-z BiVO</text>
<text x="409.1" y="45.3" font-size="20">4</text>
<ellipse cx="469.5" cy="25.2" rx="8.7" ry="8.3" fill="#fff" stroke="#000" stroke-width="2.2"/>
<text x="482" y="34.5" font-size="28">α-V</text>
<text x="528.5" y="42.4" font-size="19">2</text>
<text x="539" y="34.5" font-size="28">O</text>
<text x="561" y="42.4" font-size="19">5</text>
<path d="M76.2,93.9 L93.2,93.9 L84.7,110.9Z" fill="#000"/>
<circle cx="107.0" cy="89.5" r="8.65" fill="#fff" stroke="#000" stroke-width="2.3"/>
<path d="M165.7,101.6 L182.7,101.6 L174.2,119.0Z" fill="#000"/>
<circle cx="251.5" cy="132.6" r="8.65" fill="#fff" stroke="#000" stroke-width="2.3"/>
<path d="M288.4,120.4 L305.4,120.4 L296.9,137.0Z" fill="#000"/>
<path d="M329.9,111.3 L346.9,111.3 L338.4,128.7Z" fill="#000"/>
<circle cx="455.8" cy="139.6" r="8.65" fill="#fff" stroke="#000" stroke-width="2.3"/>
<circle cx="508.2" cy="137.5" r="8.65" fill="#fff" stroke="#000" stroke-width="2.3"/>
<circle cx="691.4" cy="129.2" r="8.65" fill="#fff" stroke="#000" stroke-width="2.3"/>
<path d="M811.6,3.9 L828.6,3.9 L820.1,20.7Z" fill="#000"/>
<circle cx="106.8" cy="128.3" r="8.65" fill="#fff" stroke="#000" stroke-width="2.3"/>
<path d="M165.9,247.8 L182.9,247.8 L174.4,265.5Z" fill="#000"/>
<path d="M211.7,262.0 L220.2,270.4 L211.7,278.8 L203.2,270.4Z" fill="#ff0000"/>
<circle cx="251.6" cy="247.3" r="8.65" fill="#fff" stroke="#000" stroke-width="2.3"/>
<path d="M288.3,257.8 L305.3,257.8 L296.8,275.2Z" fill="#000"/>
<path d="M333.5,235.4 L350.5,235.4 L342.0,252.7Z" fill="#000"/>
<circle cx="460.0" cy="269.2" r="8.65" fill="#fff" stroke="#000" stroke-width="2.3"/>
<circle cx="506.9" cy="265.5" r="8.65" fill="#fff" stroke="#000" stroke-width="2.3"/>
<circle cx="690.2" cy="252.8" r="8.65" fill="#fff" stroke="#000" stroke-width="2.3"/>
<path d="M811.9,152.2 L828.9,152.2 L820.4,168.6Z" fill="#000"/>
<path d="M846.2,146.0 L854.7,154.4 L846.2,162.8 L837.7,154.4Z" fill="#ff0000"/>
<path d="M211.6,421.9 L220.1,430.3 L211.6,438.7 L203.1,430.3Z" fill="#ff0000"/>
<path d="M334.6,403.2 L343.1,411.6 L334.6,420.0 L326.1,411.6Z" fill="#ff0000"/>
<path d="M846.1,367.1 L854.6,375.5 L846.1,383.9 L837.6,375.5Z" fill="#ff0000"/>
<text transform="translate(773.2,24.3)" font-size="22.5">830</text>
<text transform="translate(794.8,146.7)" font-size="22.5">832</text>
<text transform="translate(855.7,163.8)" font-size="22.5">856</text>
<text transform="translate(828.3,362.0)" font-size="22.5">856</text>
<text x="601.1" y="117" font-size="38" fill="#4472c4">(a)</text>
<text x="597.1" y="273.7" font-size="38" fill="#ed7d31">(b)</text>
<text x="601.1" y="427" font-size="38" fill="#00b050">(c)</text>
</svg>
</body></html>
